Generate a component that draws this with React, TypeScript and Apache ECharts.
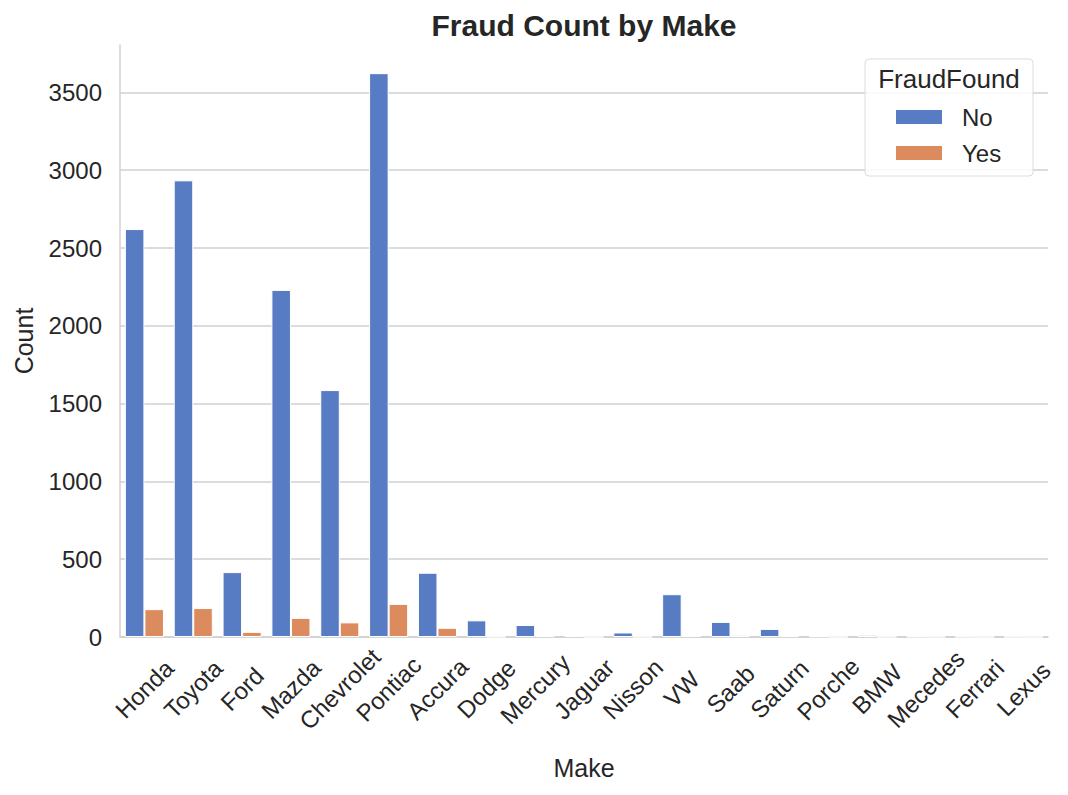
import { useEffect, useRef } from 'react';
import * as echarts from 'echarts';

// makes in the order seaborn drew them
const makes = [
    'Honda', 'Toyota', 'Ford', 'Mazda', 'Chevrolet', 'Pontiac', 'Accura', 'Dodge', 'Mercury', 'Jaguar',
    'Nisson', 'VW', 'Saab', 'Saturn', 'Porche', 'BMW', 'Mecedes', 'Ferrari', 'Lexus'
];
const fraudNo = [2622, 2935, 417, 2231, 1587, 3624, 413, 107, 77, 6, 29, 275, 97, 52, 5, 14, 3, 2, 1];
const fraudYes = [179, 186, 33, 123, 94, 213, 59, 2, 6, 0, 1, 8, 11, 6, 0, 1, 1, 0, 0];
const legendNames = ['No', 'Yes'];
const yTicks = [0, 500, 1000, 1500, 2000, 2500, 3000, 3500];

const BLUE = '#577cc3';
const ORANGE = '#dc8b5e';
const GRID_GRAY = '#d0d0d0';
const TEXT = '#262626';
const FONT = '"Liberation Sans", Arial, sans-serif';

const FraudChart: React.FC = () => {
    const chartRef = useRef<HTMLDivElement>(null);

    useEffect(() => {
        if (!chartRef.current) return;
        const chart = echarts.init(chartRef.current, undefined, { renderer: 'svg' });

        chart.setOption({
            animation: false,
            backgroundColor: '#ffffff',
            textStyle: { fontFamily: FONT },
            grid: { left: 120, right: 20, top: 45, bottom: 158 },
            graphic: [
                {
                    type: 'text',
                    x: 584,
                    y: 10,
                    style: { text: 'Fraud Count by Make', font: `bold 30px ${FONT}`, fill: TEXT, align: 'center' }
                },
                {
                    type: 'rect',
                    shape: { x: 865, y: 59, width: 168, height: 117, r: 4 },
                    style: { fill: 'rgba(255,255,255,0.85)', stroke: '#dcdcdc', lineWidth: 1 },
                    z: 10
                },
                {
                    type: 'text',
                    x: 949,
                    y: 66,
                    style: { text: 'FraudFound', font: `26px ${FONT}`, fill: TEXT, align: 'center' },
                    z: 11
                }
            ],
            legend: {
                data: legendNames,
                orient: 'vertical',
                left: 894,
                top: 105,
                padding: 0,
                itemWidth: 48,
                itemHeight: 16,
                itemGap: 12,
                icon: 'rect',
                z: 12,
                textStyle: { fontSize: 24, color: TEXT, fontFamily: FONT, padding: [0, 0, 0, 14] }
            },
            xAxis: {
                type: 'category',
                data: makes,
                name: 'Make',
                nameLocation: 'middle',
                nameGap: 118,
                nameTextStyle: { fontSize: 25, color: TEXT },
                axisLine: { lineStyle: { color: GRID_GRAY, width: 1.5 } },
                axisTick: { show: false },
                axisLabel: {
                    interval: 0,
                    rotate: 45,
                    align: 'center',
                    verticalAlign: 'middle',
                    margin: 52,
                    fontSize: 24,
                    color: TEXT
                }
            },
            yAxis: {
                type: 'value',
                min: 0,
                max: 3805,
                interval: 500,
                name: 'Count',
                nameLocation: 'middle',
                nameGap: 84,
                nameTextStyle: { fontSize: 25, color: TEXT },
                axisLine: { show: true, lineStyle: { color: GRID_GRAY, width: 1.5 } },
                axisTick: { show: false },
                axisLabel: {
                    fontSize: 24,
                    color: TEXT,
                    margin: 18,
                    showMaxLabel: false,
                    formatter: (v: number) => (yTicks.includes(v) ? String(v) : '')
                },
                splitLine: { show: true, showMaxLine: false, lineStyle: { color: GRID_GRAY, width: 1.5 } }
            },
            series: [
                {
                    name: 'No',
                    type: 'bar',
                    data: fraudNo,
                    barGap: '0%',
                    barCategoryGap: '20%',
                    itemStyle: { color: BLUE, borderColor: '#ffffff', borderWidth: 1 }
                },
                {
                    name: 'Yes',
                    type: 'bar',
                    data: fraudYes,
                    itemStyle: { color: ORANGE, borderColor: '#ffffff', borderWidth: 1 }
                }
            ]
        });

        return () => {
            chart.dispose();
        };
    }, []);

    return <div ref={chartRef} style={{ position: 'fixed', left: 0, top: 0, width: 1068, height: 795 }} />;
};

export default function App() {
    return <FraudChart />;
}
